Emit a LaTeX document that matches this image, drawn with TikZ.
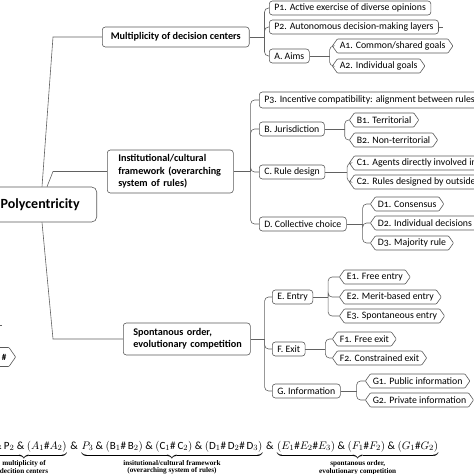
\documentclass[tikz,border=0pt]{standalone}
\usepackage{amsmath}
\usepackage{fontspec}
\setmainfont{Carlito}[Numbers=OldStyle]
\newfontfamily\fserif{Liberation Serif}
\usetikzlibrary{shapes.symbols,calc}
\newcommand{\lbl}[1]{\text{\fontsize{7.2}{8}\selectfont\fserif\bfseries #1}}
\begin{document}
\begin{tikzpicture}[x=1pt,y=-1pt,
 box/.style={draw=black!65, line width=0.6pt, rounded corners=3pt, fill=white,
   inner xsep=5pt, inner ysep=0pt, minimum height=14pt,
   font=\fontsize{9.8}{11}\selectfont, anchor=west},
 leaf/.style={box, shape=signal, signal to=west and east, signal pointer angle=110,
   rounded corners=0.7pt, inner xsep=2.5pt},
 conn/.style={draw=black!62, line width=0.6pt, rounded corners=4pt},
 trunk/.style={draw=black!62, line width=0.6pt},
 mainbox/.style={box, font=\fontsize{10.2}{12.3}\selectfont\bfseries, align=left}]
\useasboundingbox (0,0) rectangle (474,474);
\clip (0,0) rectangle (474,474);

% root
\node[box, anchor=east, font=\fontsize{14}{16}\selectfont\bfseries, minimum height=35pt,
  inner xsep=17pt, rounded corners=5pt] (poly) at (97,204.5) {Polycentricity};

% main branches
\node[mainbox, inner xsep=8.5pt, minimum height=20pt] (multi) at (102,37) {Multiplicity of decision centers};
\node[mainbox, inner xsep=11pt, text width=104pt, minimum height=43pt] (inst) at (107,171.5)
  {Institutional/cultural\\framework (overarching\\system of rules)};
\node[mainbox, inner xsep=10pt, text width=107pt, minimum height=32pt] (spont) at (123,339)
  {Spontanous order,\\\mbox{evolutionary competition}};

\draw[trunk] ($(poly.north east)+(-55,0)$) -- ($(multi.west)+(-49,0)$) -- (multi.west);
\draw[trunk] ($(poly.north east)+(-50,0)$) -- ($(inst.west)+(-54,0)$) -- (inst.west);
\draw[trunk] ($(poly.south east)+(-55,0)$) -- ($(spont.west)+(-70,0)$) -- (spont.west);

% multiplicity
\node[box] (P1) at (269,8) {P1. Active exercise of diverse opinions};
\node[box] (P2) at (269,27) {P2. Autonomous decision-making layers};
\node[box] (A) at (269,56) {A. Aims};
\node[leaf] (A1) at (332,46) {A1. Common/shared goals};
\node[leaf] (A2) at (332,66) {A2. Individual goals};
\draw[conn] (multi.east) -- ++(15,0) coordinate (jm);
\foreach \c in {P1,P2,A} \draw[conn] (jm) |- (\c.west);
\draw[conn] (P2.east) -- ++(4,0) coordinate (p2stub);
\draw[conn] (A.east) -- ++(20,0) coordinate (ja);
\foreach \c in {A1,A2} \draw[conn] (ja) |- (\c.west);

% institutional
\node[box, minimum height=16pt] (P3) at (259,100) {P3. Incentive compatibility: alignment between rules and local conditions};
\node[box] (B) at (259,129) {B. Jurisdiction};
\node[leaf] (B1) at (349,120) {B1. Territorial};
\node[leaf] (B2) at (349,140) {B2. Non-territorial};
\node[box] (C) at (259,172) {C. Rule design};
\node[leaf] (C1) at (349,163) {C1. Agents directly involved in the situation};
\node[leaf] (C2) at (349,182) {C2. Rules designed by outsiders};
\node[box] (D) at (259,224) {D. Collective choice};
\node[leaf] (D1) at (370,204) {D1. Consensus};
\node[leaf] (D2) at (370,223) {D2. Individual decisions};
\node[leaf] (D3) at (370,243) {D3. Majority rule};
\draw[conn] (inst.east) -- ++(17,0) coordinate (ji);
\foreach \c in {P3,B,C,D} \draw[conn] (ji) |- (\c.west);
\draw[conn] (B.east) -- ++(20,0) coordinate (jb);
\foreach \c in {B1,B2} \draw[conn] (jb) |- (\c.west);
\draw[conn] (C.east) -- ++(22,0) coordinate (jc);
\foreach \c in {C1,C2} \draw[conn] (jc) |- (\c.west);
\draw[conn] (D.east) -- ++(16,0) coordinate (jd);
\foreach \c in {D1,D2,D3} \draw[conn] (jd) |- (\c.west);

% spontaneous
\node[box] (E) at (272,297) {E. Entry};
\node[leaf] (E1) at (339,277) {E1. Free entry};
\node[leaf] (E2) at (339,297) {E2. Merit-based entry};
\node[leaf] (E3) at (339,316) {E3. Spontaneous entry};
\node[box] (F) at (272,349) {F. Exit};
\node[leaf] (F1) at (332,339) {F1. Free exit};
\node[leaf] (F2) at (332,358) {F2. Constrained exit};
\node[box] (G) at (272,391) {G. Information};
\node[leaf] (G1) at (365,381) {G1. Public information};
\node[leaf] (G2) at (365,400) {G2. Private information};
\draw[conn] (spont.east) -- ++(14,0) coordinate (js);
\foreach \c in {E,F,G} \draw[conn] (js) |- (\c.west);
\draw[conn] (E.east) -- ++(15,0) coordinate (je);
\foreach \c in {E1,E2,E3} \draw[conn] (je) |- (\c.west);
\draw[conn] (F.east) -- ++(20,0) coordinate (jf);
\foreach \c in {F1,F2} \draw[conn] (jf) |- (\c.west);
\draw[conn] (G.east) -- ++(16,0) coordinate (jg);
\foreach \c in {G1,G2} \draw[conn] (jg) |- (\c.west);

% fragment at left
\node[leaf, anchor=east, text width=30pt, align=right, font=\fontsize{9}{10}\selectfont\bfseries,
  minimum height=19pt] (frag) at (16,357) {\#};
\coordinate (fragstub) at (0,325);
\draw[conn] (fragstub) -- ++(2,0);

% formula
\node[anchor=base west, inner sep=0pt, font=\fontsize{11}{13}\selectfont] (formula) at (-19,449)
{$\underbrace{\mathrm{P}_1 \mathbin{\&} \mathrm{P}_2 \mathbin{\&} (A_1\#A_2)}_{\substack{\lbl{multiplicity of}\\ \lbl{decition centers}}}
 \,\&\,
 \underbrace{P_3 \mathbin{\&} (\mathrm{B}_1\#\,\mathrm{B}_2) \mathbin{\&} (\mathrm{C}_1\#\,\mathrm{C}_2) \mathbin{\&} (\mathrm{D}_1\#\,\mathrm{D}_2\#\,\mathrm{D}_3)}_{\substack{\lbl{insitutional/cultural framework}\\ \lbl{(overarching system of rules)}}}
 \,\&\,
 \underbrace{(E_1\#E_2\#E_3) \mathbin{\&} (F_1\#F_2) \mathbin{\&} (G_1\#G_2)}_{\substack{\lbl{spontanous order,}\\ \lbl{evolutionary competition}}}$};
\end{tikzpicture}
\end{document}
